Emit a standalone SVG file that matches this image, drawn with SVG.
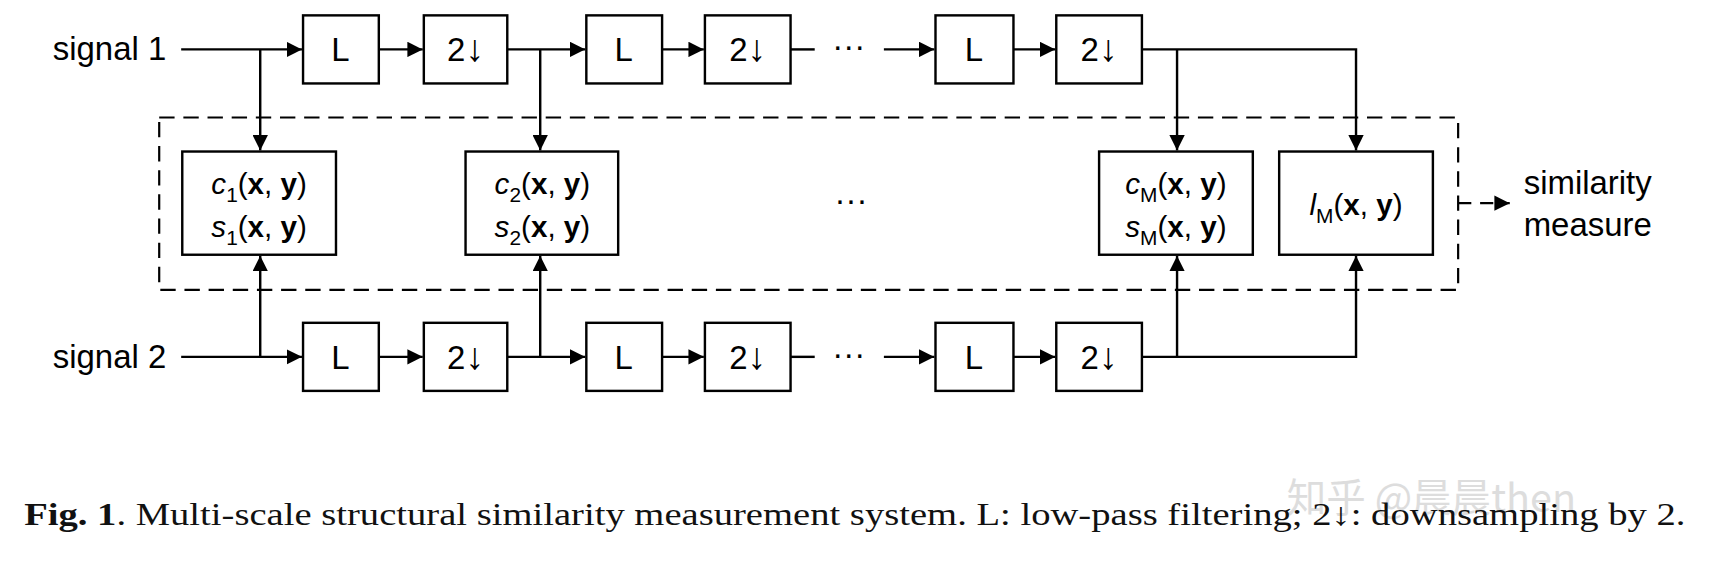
<svg xmlns="http://www.w3.org/2000/svg" width="1713" height="568" viewBox="0 0 1713 568">
<defs>
<marker id="ah" viewBox="0 0 10 10" refX="10" refY="5" markerWidth="14" markerHeight="14" markerUnits="userSpaceOnUse" orient="auto"><path d="M0,0 L10,5 L0,10 z" fill="#000"/></marker>
</defs>
<style>
.b{fill:#fff;stroke:#000;stroke-width:2.2}
.t{font-family:"Liberation Sans",Arial,sans-serif;font-size:27px;fill:#000}
.s{font-size:30px}
.ar{font-size:34px}
.c line,.c polyline{stroke:#000;stroke-width:2.2;fill:none}
.a{marker-end:url(#ah)}
</style>
<rect width="1713" height="568" fill="#fff"/>
<g transform="scale(1.098)">
<text class="t s" x="48" y="55">signal 1</text>
<text class="t s" x="48" y="335">signal 2</text>
<g class="c">
<line x1="165" y1="45" x2="275" y2="45" class="a"/>
<line x1="345" y1="45" x2="385" y2="45" class="a"/>
<line x1="462" y1="45" x2="533" y2="45" class="a"/>
<line x1="603" y1="45" x2="641" y2="45" class="a"/>
<line x1="720" y1="45" x2="742" y2="45"/>
<line x1="805" y1="45" x2="851" y2="45" class="a"/>
<line x1="923" y1="45" x2="961" y2="45" class="a"/>
<polyline points="1040,45 1235,45 1235,137" class="a"/>
<line x1="1072" y1="45" x2="1072" y2="137" class="a"/>
<line x1="237" y1="45" x2="237" y2="137" class="a"/>
<line x1="492" y1="45" x2="492" y2="137" class="a"/>
<line x1="165" y1="325" x2="275" y2="325" class="a"/>
<line x1="345" y1="325" x2="385" y2="325" class="a"/>
<line x1="462" y1="325" x2="533" y2="325" class="a"/>
<line x1="603" y1="325" x2="641" y2="325" class="a"/>
<line x1="720" y1="325" x2="742" y2="325"/>
<line x1="805" y1="325" x2="851" y2="325" class="a"/>
<line x1="923" y1="325" x2="961" y2="325" class="a"/>
<polyline points="1040,325 1235,325 1235,233" class="a"/>
<line x1="1072" y1="325" x2="1072" y2="233" class="a"/>
<line x1="237" y1="325" x2="237" y2="233" class="a"/>
<line x1="492" y1="325" x2="492" y2="233" class="a"/>
<line x1="1328" y1="185" x2="1375" y2="185" stroke-dasharray="12,8" class="a"/>
</g>
<rect id="window" x="145" y="107" width="1183" height="157" fill="none" stroke="#000" stroke-width="2" stroke-dasharray="14,8"/>
<g id="L1a"><rect class="b" x="276" y="14" width="69" height="62"/><text class="t s" x="310" y="56" text-anchor="middle">L</text></g>
<g id="D1a"><rect class="b" x="386" y="14" width="76" height="62"/><text class="t s" x="424" y="56" text-anchor="middle">2<tspan class="ar">↓</tspan></text></g>
<g id="L2a"><rect class="b" x="534" y="14" width="69" height="62"/><text class="t s" x="568" y="56" text-anchor="middle">L</text></g>
<g id="D2a"><rect class="b" x="642" y="14" width="78" height="62"/><text class="t s" x="681" y="56" text-anchor="middle">2<tspan class="ar">↓</tspan></text></g>
<text class="t s" x="773" y="52" text-anchor="middle">···</text>
<g id="L3a"><rect class="b" x="852" y="14" width="71" height="62"/><text class="t s" x="887" y="56" text-anchor="middle">L</text></g>
<g id="D3a"><rect class="b" x="962" y="14" width="78" height="62"/><text class="t s" x="1001" y="56" text-anchor="middle">2<tspan class="ar">↓</tspan></text></g>
<g id="L1b"><rect class="b" x="276" y="294" width="69" height="62"/><text class="t s" x="310" y="336" text-anchor="middle">L</text></g>
<g id="D1b"><rect class="b" x="386" y="294" width="76" height="62"/><text class="t s" x="424" y="336" text-anchor="middle">2<tspan class="ar">↓</tspan></text></g>
<g id="L2b"><rect class="b" x="534" y="294" width="69" height="62"/><text class="t s" x="568" y="336" text-anchor="middle">L</text></g>
<g id="D2b"><rect class="b" x="642" y="294" width="78" height="62"/><text class="t s" x="681" y="336" text-anchor="middle">2<tspan class="ar">↓</tspan></text></g>
<text class="t s" x="773" y="332" text-anchor="middle">···</text>
<g id="L3b"><rect class="b" x="852" y="294" width="71" height="62"/><text class="t s" x="887" y="336" text-anchor="middle">L</text></g>
<g id="D3b"><rect class="b" x="962" y="294" width="78" height="62"/><text class="t s" x="1001" y="336" text-anchor="middle">2<tspan class="ar">↓</tspan></text></g>
<g id="cs1"><rect class="b" x="166" y="138" width="140" height="94"/>
<text class="t" x="236" y="177" text-anchor="middle"><tspan font-style="italic">c</tspan><tspan font-size="19" dy="7">1</tspan><tspan dy="-7">(</tspan><tspan font-weight="bold">x</tspan>, <tspan font-weight="bold">y</tspan>)</text>
<text class="t" x="236" y="216" text-anchor="middle"><tspan font-style="italic">s</tspan><tspan font-size="19" dy="7">1</tspan><tspan dy="-7">(</tspan><tspan font-weight="bold">x</tspan>, <tspan font-weight="bold">y</tspan>)</text></g>
<g id="cs2"><rect class="b" x="424" y="138" width="139" height="94"/>
<text class="t" x="494" y="177" text-anchor="middle"><tspan font-style="italic">c</tspan><tspan font-size="19" dy="7">2</tspan><tspan dy="-7">(</tspan><tspan font-weight="bold">x</tspan>, <tspan font-weight="bold">y</tspan>)</text>
<text class="t" x="494" y="216" text-anchor="middle"><tspan font-style="italic">s</tspan><tspan font-size="19" dy="7">2</tspan><tspan dy="-7">(</tspan><tspan font-weight="bold">x</tspan>, <tspan font-weight="bold">y</tspan>)</text></g>
<text class="t s" x="775" y="192" text-anchor="middle">···</text>
<g id="csM"><rect class="b" x="1001" y="138" width="140" height="94"/>
<text class="t" x="1071" y="177" text-anchor="middle"><tspan font-style="italic">c</tspan><tspan font-size="19" dy="7">M</tspan><tspan dy="-7">(</tspan><tspan font-weight="bold">x</tspan>, <tspan font-weight="bold">y</tspan>)</text>
<text class="t" x="1071" y="216" text-anchor="middle"><tspan font-style="italic">s</tspan><tspan font-size="19" dy="7">M</tspan><tspan dy="-7">(</tspan><tspan font-weight="bold">x</tspan>, <tspan font-weight="bold">y</tspan>)</text></g>
<g id="lM"><rect class="b" x="1165" y="138" width="140" height="94"/>
<text class="t" x="1235" y="196" text-anchor="middle"><tspan font-style="italic">l</tspan><tspan font-size="19" dy="7">M</tspan><tspan dy="-7">(</tspan><tspan font-weight="bold">x</tspan>, <tspan font-weight="bold">y</tspan>)</text></g>
<g id="out"><text class="t s" x="1446" y="177" text-anchor="middle">similarity</text><text class="t s" x="1446" y="215" text-anchor="middle">measure</text></g>
<text x="1172" y="466" font-family="'Noto Sans CJK SC',sans-serif" font-size="36" fill="#ddd">知乎 @晨晨then</text>
<text x="22" y="478" font-family="'Liberation Serif','Times New Roman',serif" font-size="29" fill="#111" textLength="1513" lengthAdjust="spacingAndGlyphs"><tspan font-weight="bold">Fig. 1</tspan>. Multi-scale structural similarity measurement system. L: low-pass filtering; 2↓: downsampling by 2.</text>
</g>
</svg>
